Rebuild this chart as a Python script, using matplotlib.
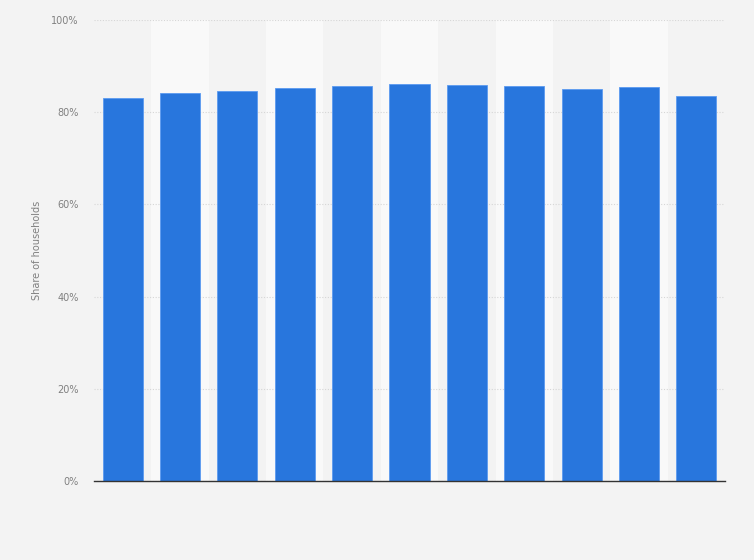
import numpy as np
import matplotlib.pyplot as plt
from matplotlib.ticker import FuncFormatter

# values (x labels are not shown in the reference)
categories = [''] * 11
shares = [83.1, 84.2, 84.6, 85.2, 85.7, 86.1, 85.9, 85.7, 85.0, 85.5, 83.6]

bg = '#f3f3f3'
band = '#f9f9f9'
bar_color = '#2876dd'
text_grey = '#808080'

fig = plt.figure(figsize=(7.54, 5.6), dpi=100, facecolor=bg)
ax = fig.add_axes([94/754, 79/560, 631/754, 461/560])
ax.set_facecolor(bg)

x = np.arange(len(shares))

# alternating lighter bands behind every second category
for i in x:
    if i % 2 == 1:
        ax.axvspan(i - 0.5, i + 0.5, color=band, zorder=0, lw=0)

ax.bar(x, shares, width=0.7, color=bar_color, edgecolor='#5b9af0',
       linewidth=0.6, zorder=3)

ax.set_xlim(-0.5, len(shares) - 0.5)
ax.set_ylim(0, 100)
ax.set_yticks([0, 20, 40, 60, 80, 100])
ax.yaxis.set_major_formatter(FuncFormatter(lambda v, p: f'{int(v)}%'))
ax.set_xticks(x)
ax.set_xticklabels(categories)

ax.grid(axis='y', color='#d6d6d6', linestyle=(0, (1, 1.5)), linewidth=0.8, zorder=1)
ax.tick_params(axis='y', length=0, pad=11, labelsize=7, labelcolor=text_grey)
ax.tick_params(axis='x', length=0)

for side in ['top', 'right', 'left']:
    ax.spines[side].set_visible(False)
ax.spines['bottom'].set_color('#333333')
ax.spines['bottom'].set_linewidth(1.0)
ax.spines['bottom'].set_zorder(4)

ax.set_ylabel('Share of households', fontsize=7, color=text_grey, labelpad=7)

plt.savefig('out.png', dpi=100, facecolor=bg)
